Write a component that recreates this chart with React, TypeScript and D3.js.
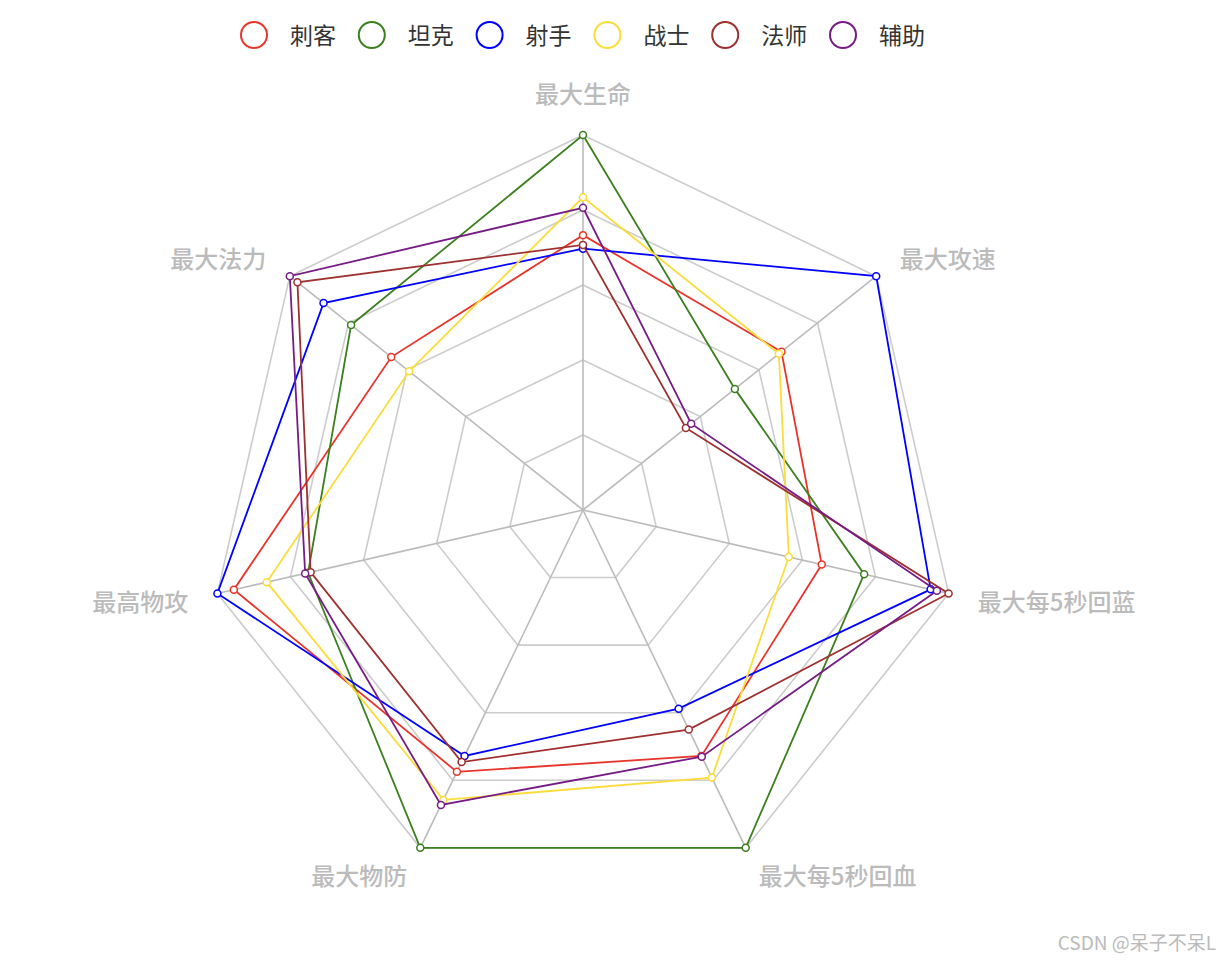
import React, { useRef, useEffect } from 'react';
import * as d3 from 'd3';

// indicators, clockwise from the top
const indicators = ['最大生命', '最大攻速', '最大每5秒回蓝', '最大每5秒回血', '最大物防', '最高物攻', '最大法力'];
const indicatorMax = 100;

const heroTypes = ['刺客', '坦克', '射手', '战士', '法师', '辅助'];
const heroColors = ['#e8352b', '#3b7f1e', '#0000ff', '#fbdc3b', '#9e3030', '#761c85'];

const assassin = [73.3, 67.7, 65.3, 72.8, 77.5, 95.5, 65.4];
const tank = [100, 51.8, 76.9, 100, 100, 75.2, 79.1];
const marksman = [69.7, 100, 95.1, 58.8, 72.8, 100, 88.5];
const fighter = [83.4, 66.8, 56.3, 79.2, 85.8, 86.5, 59.3];
const mage = [70.7, 35.1, 100, 65.0, 74.6, 74.5, 97.4];
const support = [80.6, 36.9, 96.8, 73.0, 87.3, 76.0, 100];

const seriesValues = [assassin, tank, marksman, fighter, mage, support];

const W = 1232;
const H = 960;
const CX = 583;
const CY = 510;
const R = 375;
const SPLITS = 5;
const FONT = '"Noto Sans CJK SC", "Noto Sans", sans-serif';

const RadarChart: React.FC = () => {
  const svgRef = useRef<SVGSVGElement>(null);

  useEffect(() => {
    if (!svgRef.current) return;
    const svg = d3.select(svgRef.current);
    svg.selectAll('*').remove();

    const n = indicators.length;
    const angle = d3.scaleLinear().domain([0, n]).range([0, 2 * Math.PI]);
    const rScale = d3.scaleLinear().domain([0, indicatorMax]).range([0, R]);

    const g = svg.append('g').attr('transform', `translate(${CX},${CY})`);

    // split rings
    const ring = d3.lineRadial<number>()
      .angle((_, i) => angle(i))
      .radius((d) => d)
      .curve(d3.curveLinearClosed);

    d3.range(1, SPLITS + 1).forEach((k) => {
      g.append('path')
        .attr('d', ring(d3.range(n).map(() => (R * k) / SPLITS)))
        .attr('fill', 'none')
        .attr('stroke', '#cccccc')
        .attr('stroke-width', 1.6);
    });

    // axis lines
    indicators.forEach((_, i) => {
      const a = angle(i);
      g.append('line')
        .attr('x1', 0).attr('y1', 0)
        .attr('x2', R * Math.sin(a)).attr('y2', -R * Math.cos(a))
        .attr('stroke', '#bbbbbb')
        .attr('stroke-width', 1.6);
    });

    // indicator names
    indicators.forEach((name, i) => {
      const a = angle(i);
      const s = Math.sin(a);
      const c = Math.cos(a);
      const rr = R + 30;
      const anchor = Math.abs(s) < 0.01 ? 'middle' : s > 0 ? 'start' : 'end';
      g.append('text')
        .attr('x', rr * s)
        .attr('y', -rr * c + (Math.abs(s) < 0.01 ? -13 : 0))
        .attr('text-anchor', anchor)
        .attr('dominant-baseline', 'central')
        .attr('font-family', FONT)
        .attr('font-size', 24)
        .attr('font-weight', 500)
        .attr('fill', '#bbbbbb')
        .text(name);
    });

    // series
    const line = d3.lineRadial<number>()
      .angle((_, i) => angle(i))
      .radius((d) => rScale(d))
      .curve(d3.curveLinearClosed);

    seriesValues.forEach((vals, si) => {
      const sg = g.append('g');
      sg.append('path')
        .attr('d', line(vals))
        .attr('fill', 'none')
        .attr('stroke', heroColors[si])
        .attr('stroke-width', 1.8);
      vals.forEach((v, i) => {
        const a = angle(i);
        sg.append('circle')
          .attr('cx', rScale(v) * Math.sin(a))
          .attr('cy', -rScale(v) * Math.cos(a))
          .attr('r', 3.5)
          .attr('fill', '#fff')
          .attr('stroke', heroColors[si])
          .attr('stroke-width', 1.5);
      });
    });

    // legend
    const legendX = d3.scalePoint<string>().domain(heroTypes).range([254, 843]);
    const lg = svg.append('g');
    heroTypes.forEach((t, i) => {
      const x = legendX(t) ?? 0;
      lg.append('circle')
        .attr('cx', x).attr('cy', 35).attr('r', 13)
        .attr('fill', '#fff')
        .attr('stroke', heroColors[i])
        .attr('stroke-width', 2);
      lg.append('text')
        .attr('x', x + 36).attr('y', 34)
        .attr('dominant-baseline', 'central')
        .attr('font-family', FONT)
        .attr('font-size', 23)
        .attr('fill', '#333')
        .text(t);
    });

    // watermark
    svg.append('text')
      .attr('x', 1216).attr('y', 941)
      .attr('text-anchor', 'end')
      .attr('dominant-baseline', 'central')
      .attr('font-family', FONT)
      .attr('font-size', 19)
      .attr('fill', '#bbbbbb')
      .text('CSDN @呆子不呆L');
  }, []);

  return (
    <svg
      ref={svgRef}
      width={W}
      height={H}
      style={{ position: 'absolute', left: 0, top: 0, background: '#fff' }}
    />
  );
};

export default function App() {
  return <RadarChart />;
}
